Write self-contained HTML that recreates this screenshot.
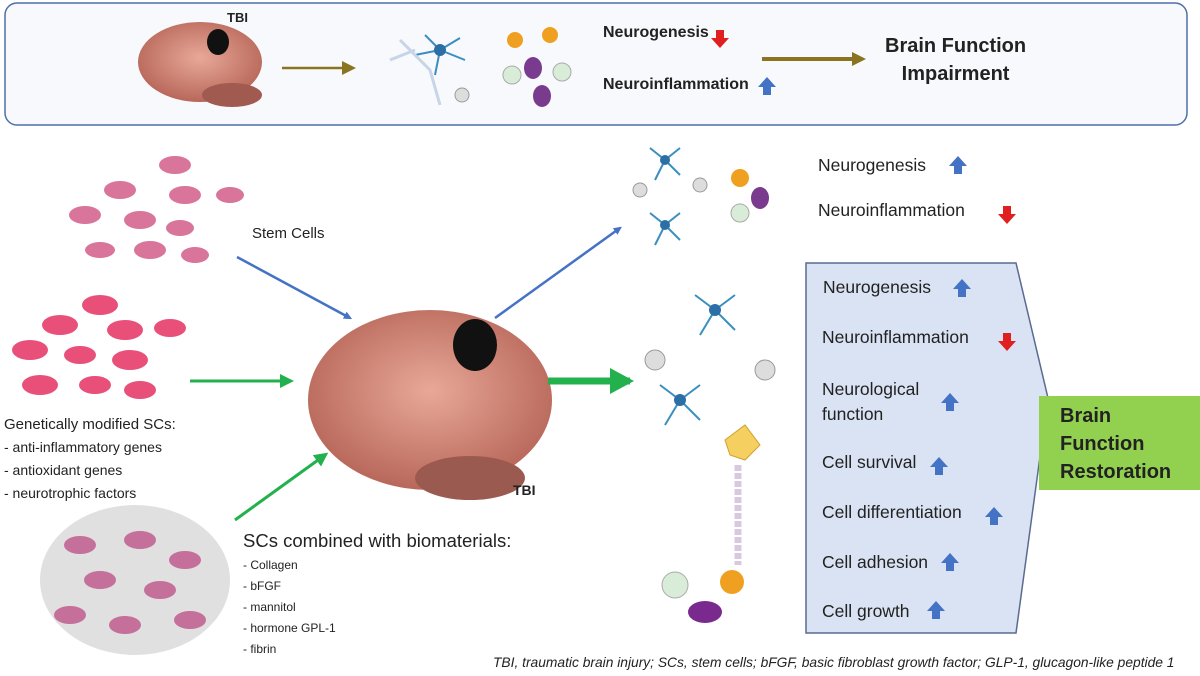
<!DOCTYPE html>
<html><head><style>
body{margin:0;width:1200px;height:676px;background:#fff;position:relative;overflow:hidden;font-family:"Liberation Sans",sans-serif;color:#222}
.t{position:absolute;white-space:nowrap}
.p{font-size:17.5px}
</style></head><body>
<svg width="1200" height="676" style="position:absolute;left:0;top:0">
<defs>
<marker id="ab" markerWidth="8" markerHeight="8" refX="6" refY="4" orient="auto" markerUnits="userSpaceOnUse"><path d="M0,0 L12,4 L0,8z" fill="#4472c4" transform="scale(0.7,1)"/></marker>
<marker id="ag" markerWidth="14" markerHeight="14" refX="10" refY="7" orient="auto" markerUnits="userSpaceOnUse"><path d="M0,0 L14,7 L0,14z" fill="#22b14c"/></marker>
<marker id="ag2" markerWidth="24" markerHeight="26" refX="20" refY="13" orient="auto" markerUnits="userSpaceOnUse"><path d="M0,0 L24,13 L0,26z" fill="#22b14c"/></marker>
<marker id="ao" markerWidth="14" markerHeight="14" refX="10" refY="7" orient="auto" markerUnits="userSpaceOnUse"><path d="M0,0 L14,7 L0,14z" fill="#8b7420"/></marker>
<radialGradient id="br" cx="50%" cy="45%" r="55%"><stop offset="0" stop-color="#e8a898"/><stop offset="1" stop-color="#b8685a"/></radialGradient>
</defs>
<rect x="5" y="3" width="1182" height="122" rx="12" fill="#f8f9fc" stroke="#4f6fa8" stroke-width="1.5"/>
<ellipse cx="200" cy="62" rx="62" ry="40" fill="url(#br)"/>
<ellipse cx="232" cy="95" rx="30" ry="12" fill="#a05a50"/>
<ellipse cx="218" cy="42" rx="11" ry="13" fill="#111"/>
<line x1="282" y1="68" x2="352" y2="68" stroke="#8b7420" stroke-width="2.5" marker-end="url(#ao)"/>
<line x1="762" y1="59" x2="862" y2="59" stroke="#8b7420" stroke-width="4" marker-end="url(#ao)"/>
<g fill="none" stroke="#3a8fc0" stroke-width="2"><path d="M440 50 l-15 -15 M440 50 l20 -12 M440 50 l-5 25 M440 50 l25 10 M440 50 l-25 5"/></g>
<circle cx="440" cy="50" r="6" fill="#2c6fa6"/>
<g stroke="#c8d4e8" stroke-width="3" fill="none"><path d="M400 40 l30 30 l10 35 M390 60 l25 -10"/></g>
<circle cx="462" cy="95" r="7" fill="#ddd" stroke="#999"/>
<circle cx="515" cy="40" r="8" fill="#f0a020"/><circle cx="550" cy="35" r="8" fill="#f0a020"/>
<ellipse cx="533" cy="68" rx="9" ry="11" fill="#7a3a8e"/><ellipse cx="542" cy="96" rx="9" ry="11" fill="#7a3a8e"/>
<circle cx="512" cy="75" r="9" fill="#d8ecd8" stroke="#aaa"/><circle cx="562" cy="72" r="9" fill="#d8ecd8" stroke="#aaa"/>
<path d="M716 30 h8 v8 h5 l-9 10 l-9 -10 h5z" fill="#e02020"/>
<path d="M763 95 h8 v-8 h5 l-9 -10 l-9 10 h5z" fill="#4472c4"/>
<ellipse cx="430" cy="400" rx="122" ry="90" fill="url(#br)"/>
<ellipse cx="470" cy="478" rx="55" ry="22" fill="#9a5a50"/>
<ellipse cx="475" cy="345" rx="22" ry="26" fill="#111"/>
<g fill="#d9749a">
<ellipse cx="175" cy="165" rx="16" ry="9"/><ellipse cx="120" cy="190" rx="16" ry="9"/><ellipse cx="185" cy="195" rx="16" ry="9"/><ellipse cx="230" cy="195" rx="14" ry="8"/><ellipse cx="85" cy="215" rx="16" ry="9"/><ellipse cx="140" cy="220" rx="16" ry="9"/><ellipse cx="180" cy="228" rx="14" ry="8"/><ellipse cx="100" cy="250" rx="15" ry="8"/><ellipse cx="150" cy="250" rx="16" ry="9"/><ellipse cx="195" cy="255" rx="14" ry="8"/>
</g>
<g fill="#e8507a">
<ellipse cx="100" cy="305" rx="18" ry="10"/><ellipse cx="60" cy="325" rx="18" ry="10"/><ellipse cx="125" cy="330" rx="18" ry="10"/><ellipse cx="170" cy="328" rx="16" ry="9"/><ellipse cx="30" cy="350" rx="18" ry="10"/><ellipse cx="80" cy="355" rx="16" ry="9"/><ellipse cx="130" cy="360" rx="18" ry="10"/><ellipse cx="40" cy="385" rx="18" ry="10"/><ellipse cx="95" cy="385" rx="16" ry="9"/><ellipse cx="140" cy="390" rx="16" ry="9"/>
</g>
<ellipse cx="135" cy="580" rx="95" ry="75" fill="#e0e0e0"/>
<g fill="#c4709a"><ellipse cx="80" cy="545" rx="16" ry="9"/><ellipse cx="140" cy="540" rx="16" ry="9"/><ellipse cx="185" cy="560" rx="16" ry="9"/><ellipse cx="100" cy="580" rx="16" ry="9"/><ellipse cx="160" cy="590" rx="16" ry="9"/><ellipse cx="70" cy="615" rx="16" ry="9"/><ellipse cx="125" cy="625" rx="16" ry="9"/><ellipse cx="190" cy="620" rx="16" ry="9"/></g>
<line x1="237" y1="257" x2="350" y2="318" stroke="#4472c4" stroke-width="2.5" marker-end="url(#ab)"/>
<line x1="190" y1="381" x2="290" y2="381" stroke="#22b14c" stroke-width="3" marker-end="url(#ag)"/>
<line x1="235" y1="520" x2="325" y2="455" stroke="#22b14c" stroke-width="3" marker-end="url(#ag)"/>
<line x1="495" y1="318" x2="620" y2="228" stroke="#4472c4" stroke-width="2.5" marker-end="url(#ab)"/>
<line x1="548" y1="381" x2="630" y2="381" stroke="#22b14c" stroke-width="7" marker-end="url(#ag2)"/>
<g stroke="#3a8fc0" stroke-width="2" fill="none">
<path d="M665 160 l-15 -12 M665 160 l15 -12 M665 160 l-10 20 M665 160 l15 15"/>
<path d="M665 225 l-15 -12 M665 225 l15 -12 M665 225 l-10 20 M665 225 l15 15"/>
<path d="M715 310 l-20 -15 M715 310 l20 -15 M715 310 l-15 25 M715 310 l20 20"/>
<path d="M680 400 l-20 -15 M680 400 l20 -15 M680 400 l-15 25 M680 400 l20 20"/>
</g>
<circle cx="665" cy="160" r="5" fill="#2c6fa6"/><circle cx="665" cy="225" r="5" fill="#2c6fa6"/><circle cx="715" cy="310" r="6" fill="#2c6fa6"/><circle cx="680" cy="400" r="6" fill="#2c6fa6"/>
<circle cx="640" cy="190" r="7" fill="#ddd" stroke="#999"/><circle cx="700" cy="185" r="7" fill="#ddd" stroke="#999"/>
<circle cx="655" cy="360" r="10" fill="#ddd" stroke="#999"/><circle cx="765" cy="370" r="10" fill="#ddd" stroke="#999"/>
<circle cx="740" cy="178" r="9" fill="#f0a020"/><ellipse cx="760" cy="198" rx="9" ry="11" fill="#7a3a8e"/><circle cx="740" cy="213" r="9" fill="#d8ecd8" stroke="#aaa"/>
<path d="M725 440 l20 -15 l15 20 l-15 15 l-15 -5z" fill="#f5d060" stroke="#d0a030"/>
<path d="M738 465 L738 565" stroke="#d8c8e0" stroke-width="7" stroke-dasharray="6 2"/>
<circle cx="675" cy="585" r="13" fill="#d8ecd8" stroke="#aaa"/><circle cx="732" cy="582" r="12" fill="#f0a020"/><ellipse cx="705" cy="612" rx="17" ry="11" fill="#7a2a8e"/>
<path d="M1003 206 h8 v8 h5 l-9 10 l-9 -10 h5z" fill="#e02020"/>
<path d="M954 174 h8 v-8 h5 l-9 -10 l-9 10 h5z" fill="#4472c4"/>
<path d="M806 263 H1016 L1048 398 L1016 633 H806Z" fill="#dae3f3" stroke="#5a6a90" stroke-width="1.5"/>
<rect x="1039" y="396" width="161" height="94" fill="#92d050"/>
<g fill="#4472c4">
<path d="M958 297 h8 v-8 h5 l-9 -10 l-9 10 h5z"/>
<path d="M946 411 h8 v-8 h5 l-9 -10 l-9 10 h5z"/>
<path d="M935 475 h8 v-8 h5 l-9 -10 l-9 10 h5z"/>
<path d="M990 525 h8 v-8 h5 l-9 -10 l-9 10 h5z"/>
<path d="M946 571 h8 v-8 h5 l-9 -10 l-9 10 h5z"/>
<path d="M932 619 h8 v-8 h5 l-9 -10 l-9 10 h5z"/>
</g>
<path d="M1003 333 h8 v8 h5 l-9 10 l-9 -10 h5z" fill="#e02020"/>
</svg>
<div class="t" style="left:227px;top:10px;font-weight:bold;font-size:13px">TBI</div>
<div class="t" style="left:603px;top:24px;font-weight:bold;font-size:16px">Neurogenesis</div>
<div class="t" style="left:603px;top:76px;font-weight:bold;font-size:16px">Neuroinflammation</div>
<div class="t" style="left:885px;top:32px;font-weight:bold;font-size:20px;text-align:center;line-height:28px">Brain Function<br>Impairment</div>
<div class="t" style="left:252px;top:225px;font-size:15px">Stem Cells</div>
<div class="t" style="left:4px;top:414px;font-size:15px;line-height:22px">Genetically modified SCs:<br><span style="font-size:14px">- anti-inflammatory genes<br>- antioxidant genes<br>- neurotrophic factors</span></div>
<div class="t" style="left:513px;top:482px;font-weight:bold;font-size:14px">TBI</div>
<div class="t" style="left:243px;top:530px;font-size:18.5px">SCs combined with biomaterials:</div>
<div class="t" style="left:243px;top:555px;font-size:12px;line-height:21px">- Collagen<br>- bFGF<br>- mannitol<br>- hormone GPL-1<br>- fibrin</div>
<div class="t p" style="left:818px;top:155px">Neurogenesis</div>
<div class="t p" style="left:818px;top:200px">Neuroinflammation</div>
<div class="t p" style="left:823px;top:277px">Neurogenesis</div>
<div class="t p" style="left:822px;top:327px">Neuroinflammation</div>
<div class="t p" style="left:822px;top:377px;line-height:25px">Neurological<br>function</div>
<div class="t p" style="left:822px;top:452px">Cell survival</div>
<div class="t p" style="left:822px;top:502px">Cell differentiation</div>
<div class="t p" style="left:822px;top:552px">Cell adhesion</div>
<div class="t p" style="left:822px;top:601px">Cell growth</div>
<div class="t" style="left:1060px;top:402px;font-weight:bold;font-size:20px;line-height:28px">Brain<br>Function<br>Restoration</div>
<div class="t" style="left:493px;top:655px;font-style:italic;font-size:13.8px">TBI, traumatic brain injury; SCs, stem cells; bFGF, basic fibroblast growth factor; GLP-1, glucagon-like peptide 1</div>
</body></html>
